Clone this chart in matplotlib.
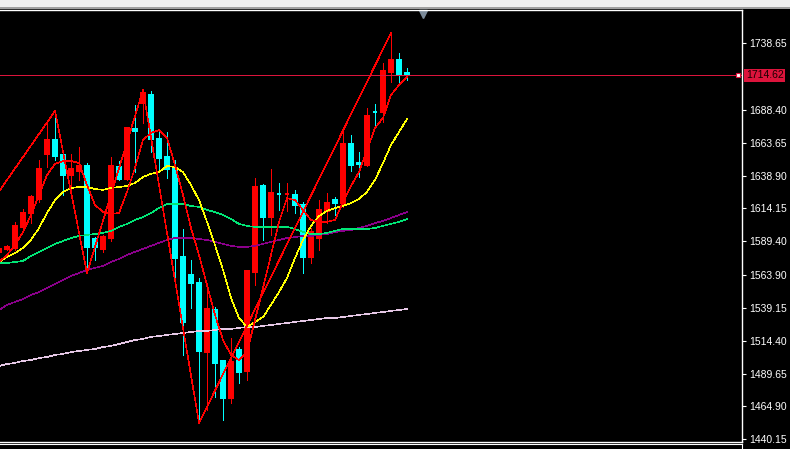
import matplotlib
matplotlib.use("Agg")
import matplotlib.pyplot as plt
import matplotlib.transforms as mtransforms
from matplotlib.patches import Rectangle

# --- daily bars, oldest first ---
opens = [1581.4, 1583.7, 1584.4, 1600.2, 1610.7, 1621.3, 1655.2, 1665.8, 1654.5, 1639.4,
         1642.4, 1646.2, 1591.1, 1583.7, 1591.9, 1645.4, 1636.4, 1674.0, 1693.7, 1699.7,
         1666.5, 1653.0, 1644.7, 1577.6, 1564.0, 1558.0, 1505.9, 1537.6, 1499.2, 1471.3,
         1507.5, 1491.6, 1566.3, 1631.1, 1607.7, 1625.4, 1624.7, 1624.3, 1616.8, 1577.6,
         1591.9, 1612.2, 1620.5, 1618.3, 1662.8, 1648.1, 1646.9, 1687.2, 1686.9, 1717.0,
         1726.1, 1716.2]
highs = [1585.2, 1586.6, 1604.0, 1613.8, 1624.3, 1650.7, 1680.8, 1687.6, 1656.0, 1655.2,
         1660.5, 1648.4, 1592.6, 1594.2, 1653.0, 1649.9, 1675.6, 1692.2, 1703.5, 1702.7,
         1671.8, 1671.8, 1650.7, 1598.7, 1575.3, 1561.7, 1554.2, 1539.9, 1499.9, 1516.5,
         1509.7, 1567.8, 1637.1, 1632.6, 1643.9, 1633.4, 1633.4, 1628.1, 1619.0, 1599.4,
         1620.5, 1625.8, 1622.8, 1673.3, 1669.5, 1656.7, 1689.9, 1692.9, 1723.8, 1746.4,
         1731.3, 1720.0]
lows = [1579.9, 1582.9, 1582.9, 1597.9, 1603.2, 1619.0, 1645.4, 1650.7, 1624.3, 1628.1,
        1635.6, 1565.5, 1575.3, 1581.4, 1589.6, 1635.6, 1635.6, 1641.6, 1678.6, 1656.7,
        1642.4, 1637.1, 1561.7, 1503.7, 1539.1, 1452.4, 1462.2, 1472.0, 1454.7, 1467.5,
        1482.6, 1484.9, 1556.5, 1590.4, 1594.2, 1613.0, 1612.2, 1610.7, 1565.5, 1573.1,
        1582.9, 1603.2, 1609.2, 1615.3, 1642.4, 1637.9, 1646.2, 1674.8, 1679.3, 1709.5,
        1707.2, 1711.0]
closes = [1583.7, 1585.2, 1601.0, 1610.7, 1622.8, 1643.9, 1665.8, 1653.7, 1639.4, 1643.9,
          1646.2, 1585.2, 1585.2, 1592.6, 1646.2, 1636.4, 1674.8, 1672.9, 1701.2, 1666.5,
          1652.2, 1643.9, 1576.8, 1528.6, 1558.0, 1506.7, 1538.4, 1497.7, 1471.3, 1498.4,
          1490.9, 1567.0, 1630.3, 1607.7, 1625.8, 1624.7, 1625.4, 1616.8, 1577.6, 1596.4,
          1613.0, 1618.3, 1618.3, 1662.8, 1646.9, 1647.3, 1683.9, 1686.5, 1717.8, 1726.1,
          1715.5, 1714.62]

# --- moving averages ---
ma_fast = [1573.8, 1579.1, 1586.6, 1596.4, 1609.2, 1624.3, 1639.4, 1647.7, 1649.9, 1649.9,
           1648.4, 1631.8, 1616.8, 1611.5, 1610.0, 1610.7, 1626.6, 1644.7, 1665.8, 1671.0,
           1673.3, 1667.3, 1646.9, 1624.3, 1599.4, 1579.1, 1556.5, 1533.9, 1515.0, 1503.7,
           1499.9, 1505.9, 1530.1, 1554.2, 1579.1, 1604.0, 1622.0, 1620.5, 1613.0, 1605.5,
           1604.0, 1604.0, 1605.5, 1619.0, 1631.1, 1641.6, 1658.2, 1674.8, 1682.4, 1699.7,
           1707.2, 1713.3]
ma_yellow = [1573.8, 1577.6, 1580.6, 1584.4, 1590.4, 1599.4, 1610.7, 1620.5, 1626.6, 1629.6,
             1630.3, 1630.3, 1628.8, 1628.1, 1629.6, 1630.3, 1631.1, 1633.4, 1637.9, 1640.2,
             1641.6, 1646.2, 1645.4, 1641.6, 1631.8, 1620.5, 1604.0, 1586.6, 1567.8, 1546.7,
             1531.6, 1524.8, 1528.6, 1532.3, 1541.4, 1551.2, 1561.7, 1576.8, 1590.4, 1601.0,
             1608.5, 1612.2, 1614.5, 1616.0, 1618.3, 1621.3, 1626.6, 1635.6, 1648.4, 1662.0,
             1671.8, 1681.6]
ma_green = [1573.0, 1573.0, 1573.8, 1574.6, 1578.3, 1581.4, 1584.4, 1587.4, 1589.6, 1591.9,
            1593.4, 1594.2, 1594.9, 1595.7, 1597.2, 1600.2, 1602.5, 1605.5, 1607.7, 1610.7,
            1614.5, 1617.5, 1617.5, 1617.5, 1616.0, 1615.3, 1613.0, 1611.5, 1609.2, 1606.2,
            1602.5, 1601.0, 1600.2, 1600.2, 1600.2, 1600.2, 1600.2, 1598.7, 1596.4, 1594.9,
            1594.9, 1595.7, 1597.2, 1598.7, 1598.7, 1598.7, 1598.7, 1599.4, 1601.0, 1602.5,
            1604.0, 1606.2]
ma_purple = [1537.6, 1541.4, 1543.7, 1545.9, 1548.9, 1551.2, 1554.2, 1557.2, 1560.2, 1563.3,
             1565.5, 1567.8, 1569.3, 1570.8, 1573.8, 1576.1, 1579.1, 1581.4, 1583.7, 1586.0,
             1588.2, 1590.4, 1591.9, 1591.9, 1591.9, 1591.1, 1590.4, 1588.9, 1587.4, 1586.0,
             1585.2, 1585.2, 1586.0, 1587.4, 1588.9, 1590.4, 1591.9, 1592.6, 1593.4, 1593.4,
             1594.2, 1594.9, 1596.4, 1597.2, 1597.9, 1599.4, 1601.0, 1603.2, 1604.7, 1607.0,
             1609.2, 1611.5]
ma_slow = [1495.4, 1496.9, 1497.7, 1499.2, 1499.9, 1501.4, 1502.2, 1503.7, 1504.5, 1505.9,
           1506.7, 1507.5, 1508.2, 1509.7, 1510.5, 1512.0, 1513.5, 1515.0, 1515.8, 1517.3,
           1518.0, 1518.8, 1519.5, 1520.3, 1521.0, 1521.8, 1521.8, 1522.6, 1523.3, 1523.3,
           1524.1, 1524.8, 1524.8, 1525.6, 1526.3, 1527.1, 1527.8, 1528.6, 1529.3, 1530.1,
           1530.8, 1531.6, 1531.6, 1532.3, 1533.1, 1533.9, 1534.6, 1535.4, 1536.1, 1536.9,
           1537.6, 1538.4]

# zigzag swing points (bar index, price)
zz_bar = [-3, 7, 11, 18, 25, 49]
zz_price = [1601.0, 1687.6, 1565.5, 1703.5, 1452.4, 1746.4]

price_ticks = [1738.65, 1688.40, 1663.65, 1638.90, 1614.15, 1589.40, 1563.90,
               1539.15, 1514.40, 1489.65, 1464.90, 1440.15]
last_price = 1714.62

BULL = '#ff0000'
BEAR = '#00ffff'

fig = plt.figure(figsize=(7.9, 4.49), dpi=100)
fig.patch.set_facecolor('black')

# title strip of the terminal window
fig.patches.append(Rectangle((0, 1 - 7 / 449), 1, 7 / 449, transform=fig.transFigure,
                             facecolor='#f0f0f0', edgecolor='none'))
fig.patches.append(Rectangle((0, 1 - 9 / 449), 1, 2 / 449, transform=fig.transFigure,
                             facecolor='#a0a0a0', edgecolor='none'))

ax = fig.add_axes([0, 7 / 449, 742 / 790, 432 / 449])
ax.set_facecolor('black')

n = len(closes)
xs = list(range(n))

# candles
for i in xs:
    col = BULL if closes[i] >= opens[i] else BEAR
    ax.vlines(i, lows[i], highs[i], color=col, lw=0.5, antialiased=False)
    lo = min(opens[i], closes[i])
    h = max(abs(closes[i] - opens[i]), 0.5)
    ax.bar(i, h, bottom=lo, width=0.6, color=col, edgecolor=col, lw=0.3,
           antialiased=False)

# indicators
lkw = dict(lw=0.4, antialiased=False)
ax.plot(xs, ma_slow, color='#e6c8e6', **lkw)
ax.plot(xs, ma_purple, color='#8b008b', **lkw)
ax.plot(xs, ma_green, color='#00e676', **lkw)
ax.plot(xs, ma_yellow, color='#ffff00', **lkw)
ax.plot(xs, ma_fast, color='#ff0000', **lkw)
ax.plot(zz_bar, zz_price, color='#ff0000', **lkw)

# bid line
ax.axhline(last_price, color='#dc143c', lw=0.5, antialiased=False)
ax.plot([92.375], [last_price], marker='s', ms=3.5, mfc='white', mec='#dc143c',
        mew=0.8, clip_on=False)

# chart shift marker
ax.plot([53], [1761.0], marker='v', ms=6, color='#7b8a99', clip_on=False)

ax.set_xlim(0.125, 92.875)
ax.set_ylim(1438.11, 1763.75)

for s in ['top', 'right', 'bottom']:
    ax.spines[s].set_color('white')
    ax.spines[s].set_linewidth(1.0)
ax.spines['left'].set_visible(False)
ax.set_xticks([])
ax.yaxis.tick_right()
ax.set_yticks(price_ticks)
ax.set_yticklabels(['%.2f' % t for t in price_ticks])
ax.tick_params(axis='y', colors='white', length=3, width=0.8, pad=2,
               labelsize=7.5, labelcolor='white')
for lab in ax.get_yticklabels():
    lab.set_family(['Liberation Sans', 'DejaVu Sans'])

trans = mtransforms.blended_transform_factory(ax.transAxes, ax.transData)
ax.text(1.005, last_price, '%.2f' % last_price, transform=trans, va='center', ha='left',
        fontsize=7.5, color='#1a0000', family=['Liberation Sans', 'DejaVu Sans'],
        bbox=dict(facecolor='#dc143c', edgecolor='none', pad=1.0), clip_on=False)

# lower indicator window (only its top edge shows)
ax2 = fig.add_axes([0, 0, 742 / 790, 5 / 449])
ax2.set_facecolor('black')
ax2.set_xticks([])
ax2.set_yticks([])
ax2.spines['left'].set_visible(False)
ax2.spines['bottom'].set_visible(False)
ax2.spines['top'].set_color('white')
ax2.spines['right'].set_color('white')

fig.savefig('out.png', dpi=100, facecolor=fig.get_facecolor())
